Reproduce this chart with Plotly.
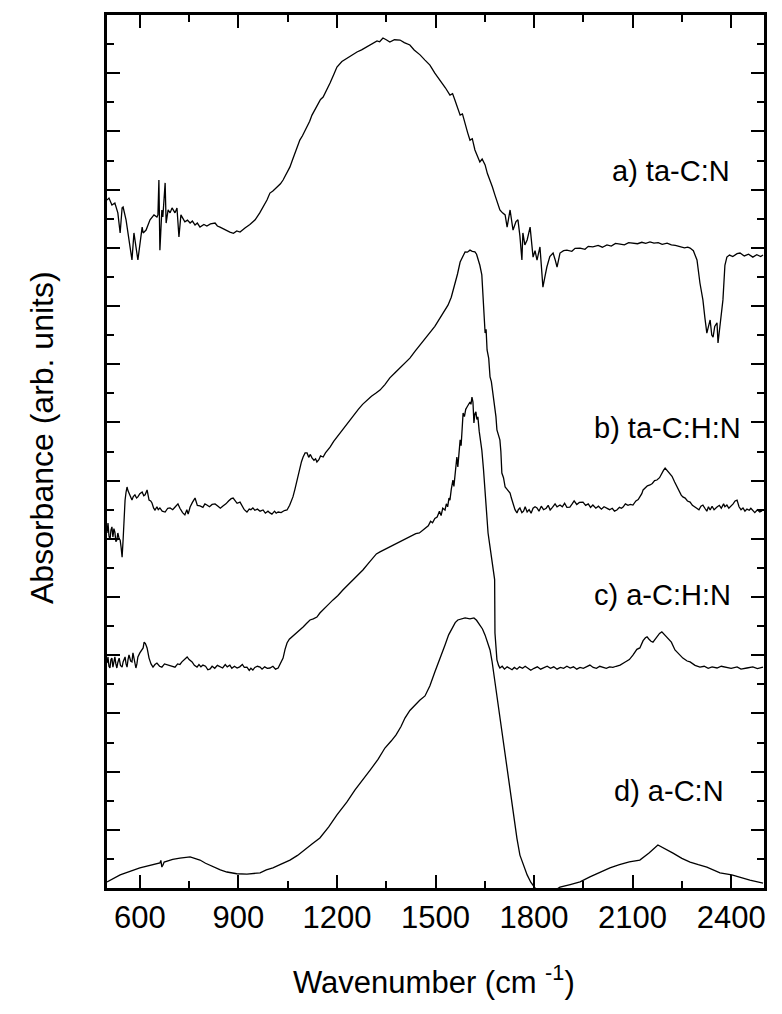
import plotly.graph_objects as go

# ---------------- data (wavenumber cm-1, absorbance arb. units offset) ----------------
a_x = [500, 506, 515, 524, 533, 540, 546, 549, 558, 564, 576, 582, 591, 594, 607, 610, 619, 631, 643, 652,
       655, 658, 661, 667, 670, 677, 680, 686, 692, 698, 707, 713, 719, 725, 737, 745, 753, 760, 768, 775,
       783, 795, 804, 815, 829, 836, 844, 855, 865, 874, 885, 895, 905, 912, 920, 935, 951, 965, 975, 987,
       996, 1005, 1017, 1028, 1036, 1046, 1057, 1064, 1072, 1080, 1087, 1095, 1109, 1117, 1124, 1133, 1142,
       1150, 1158, 1168, 1179, 1190, 1200, 1215, 1231, 1245, 1261, 1275, 1291, 1305, 1322, 1330, 1340, 1350,
       1361, 1375, 1392, 1405, 1422, 1435, 1453, 1468, 1483, 1498, 1514, 1530, 1544, 1552, 1559, 1567, 1575,
       1582, 1590, 1598, 1605, 1612, 1620, 1628, 1635, 1642, 1651, 1658, 1666, 1673, 1681, 1688, 1696, 1704,
       1712, 1718, 1727, 1736, 1745, 1751, 1757, 1763, 1766, 1772, 1779, 1788, 1797, 1803, 1809, 1818, 1827,
       1833, 1839, 1848, 1858, 1864, 1870, 1879, 1890, 1900, 1915, 1925, 1940, 1955, 1965, 1979, 1995, 2008,
       2022, 2035, 2048, 2062, 2075, 2088, 2101, 2115, 2128, 2140, 2153, 2165, 2178, 2190, 2205, 2218, 2230,
       2244, 2258, 2268, 2275, 2285, 2296, 2305, 2314, 2320, 2326, 2331, 2336, 2341, 2345, 2350, 2357, 2360,
       2366, 2372, 2375, 2381, 2387, 2395, 2405, 2418, 2427, 2440, 2453, 2466, 2478, 2490, 2497]
a_y = [23.64, 23.71, 23.47, 23.54, 23.20, 22.51, 23.37, 23.40, 22.96, 22.51, 21.58, 22.51, 21.68, 21.58, 22.71,
       22.51, 22.61, 22.96, 23.13, 23.06, 23.13, 24.33, 21.92, 23.30, 23.06, 24.23, 22.85, 23.30, 23.20, 23.37,
       23.20, 23.37, 22.37, 23.13, 22.89, 22.95, 22.85, 22.92, 22.78, 22.85, 22.71, 22.80, 22.75, 22.82, 22.85,
       22.75, 22.71, 22.65, 22.58, 22.54, 22.50, 22.58, 22.54, 22.62, 22.68, 22.80, 22.96, 23.20, 23.40, 23.64,
       23.88, 23.95, 24.08, 24.20, 24.33, 24.55, 24.78, 25.00, 25.26, 25.50, 25.70, 25.85, 26.15, 26.35, 26.56,
       26.75, 26.98, 27.10, 27.18, 27.40, 27.66, 27.95, 28.21, 28.40, 28.52, 28.62, 28.73, 28.80, 28.90, 29.00,
       29.11, 29.08, 29.21, 29.15, 29.07, 29.15, 29.14, 29.05, 28.97, 28.80, 28.63, 28.45, 28.28, 28.00, 27.77,
       27.50, 27.25, 27.30, 27.08, 26.80, 26.56, 26.60, 26.22, 25.95, 25.70, 25.75, 25.36, 25.10, 24.95, 25.05,
       24.85, 24.55, 24.33, 24.10, 23.81, 23.55, 23.30, 23.20, 23.13, 22.71, 23.30, 22.61, 22.90, 22.96, 22.40,
       21.58, 22.51, 22.10, 22.27, 22.71, 21.68, 21.90, 21.58, 22.03, 20.65, 21.00, 21.34, 21.70, 21.82, 21.60,
       21.34, 21.82, 21.90, 21.92, 21.88, 21.98, 21.99, 21.95, 22.05, 22.03, 22.08, 22.02, 22.10, 22.06, 22.15,
       22.13, 22.10, 22.18, 22.16, 22.14, 22.19, 22.15, 22.20, 22.16, 22.18, 22.12, 22.16, 22.10, 22.08, 22.03,
       22.00, 22.02, 21.99, 21.90, 21.58, 20.79, 20.21, 19.60, 19.07, 19.30, 19.52, 19.00, 18.93, 19.30, 19.42,
       18.73, 19.40, 19.86, 20.21, 21.40, 21.68, 21.75, 21.70, 21.80, 21.82, 21.72, 21.78, 21.68, 21.76, 21.70,
       21.75]

b_x = [500, 503, 506, 509, 512, 515, 518, 521, 524, 527, 530, 533, 537, 540, 543, 546, 549, 552, 555, 558,
       561, 564, 567, 571, 576, 580, 585, 590, 594, 600, 607, 612, 616, 622, 628, 633, 637, 642, 646, 652,
       656, 661, 668, 677, 685, 692, 700, 708, 716, 722, 730, 737, 743, 747, 753, 760, 768, 775, 783, 792,
       798, 804, 812, 820, 829, 838, 845, 853, 862, 870, 878, 884, 890, 896, 905, 912, 918, 926, 933, 938,
       944, 950, 958, 966, 975, 982, 990, 996, 1002, 1010, 1015, 1021, 1030, 1040, 1048, 1056, 1061, 1066,
       1072, 1078, 1083, 1087, 1092, 1097, 1103, 1109, 1114, 1119, 1124, 1130, 1135, 1139, 1145, 1150, 1158,
       1165, 1172, 1179, 1190, 1200, 1209, 1220, 1230, 1240, 1252, 1265, 1278, 1291, 1305, 1318, 1331, 1346,
       1361, 1376, 1392, 1408, 1422, 1438, 1453, 1468, 1483, 1498, 1514, 1526, 1538, 1548, 1559, 1567, 1575,
       1582, 1590, 1597, 1605, 1612, 1620, 1625, 1629, 1635, 1641, 1645, 1648, 1651, 1654, 1657, 1662, 1666,
       1670, 1675, 1680, 1684, 1687, 1691, 1696, 1699, 1702, 1707, 1712, 1718, 1723, 1727, 1731, 1736, 1742,
       1748, 1752, 1757, 1763, 1768, 1773, 1779, 1785, 1791, 1797, 1803, 1809, 1815, 1822, 1829, 1837, 1843,
       1849, 1856, 1864, 1870, 1879, 1886, 1893, 1900, 1909, 1916, 1922, 1930, 1938, 1949, 1957, 1965, 1972,
       1979, 1988, 1996, 2005, 2013, 2022, 2030, 2038, 2045, 2052, 2060, 2066, 2071, 2078, 2086, 2093, 2101,
       2110, 2117, 2122, 2128, 2132, 2138, 2145, 2153, 2160, 2167, 2174, 2182, 2188, 2194, 2199, 2205, 2210,
       2214, 2220, 2228, 2235, 2242, 2248, 2253, 2260, 2267, 2275, 2282, 2290, 2296, 2302, 2308, 2314, 2320,
       2326, 2331, 2336, 2342, 2348, 2357, 2364, 2370, 2377, 2381, 2387, 2393, 2400, 2406, 2412, 2418, 2424,
       2430, 2436, 2442, 2448, 2455, 2460, 2466, 2472, 2480, 2487, 2494]
b_y = [12.20, 12.54, 12.10, 11.96, 12.30, 12.41, 12.06, 12.35, 12.23, 11.90, 11.96, 12.20, 12.00, 11.96, 11.70,
       11.37, 11.96, 12.80, 13.33, 13.60, 13.78, 13.65, 13.57, 13.45, 13.33, 13.45, 13.51, 13.40, 13.44, 13.55,
       13.61, 13.48, 13.51, 13.68, 13.33, 13.30, 13.23, 13.05, 12.99, 13.10, 13.00, 13.06, 12.95, 12.92, 13.05,
       13.06, 13.00, 13.10, 13.20, 13.05, 12.90, 12.82, 13.00, 12.85, 13.09, 13.25, 13.40, 13.15, 13.13, 13.08,
       13.20, 13.16, 13.10, 13.18, 13.20, 13.12, 13.05, 13.13, 13.20, 13.30, 13.38, 13.40, 13.30, 13.22, 13.26,
       13.10, 13.00, 12.92, 13.02, 13.00, 13.06, 12.98, 13.02, 12.95, 12.99, 12.88, 12.95, 12.89, 12.85, 12.95,
       12.88, 12.92, 12.90, 12.97, 12.99, 13.15, 13.30, 13.44, 13.70, 14.00, 14.25, 14.47, 14.65, 14.81, 14.95,
       14.95, 14.80, 14.90, 14.78, 14.70, 14.75, 14.64, 14.72, 14.85, 14.81, 14.95, 15.05, 15.15, 15.35, 15.50,
       15.64, 15.80, 15.95, 16.08, 16.25, 16.45, 16.62, 16.77, 16.90, 17.00, 17.11, 17.30, 17.53, 17.70, 17.87,
       18.05, 18.21, 18.45, 18.66, 18.85, 19.07, 19.30, 19.59, 19.80, 20.03, 20.30, 20.72, 21.10, 21.51, 21.70,
       21.86, 21.85, 21.92, 21.88, 21.86, 21.78, 21.65, 21.40, 21.07, 20.21, 20.00, 19.07, 19.20, 18.49, 18.20,
       17.56, 17.40, 17.01, 16.50, 16.20, 15.74, 15.60, 15.40, 15.00, 14.26, 14.10, 13.78, 13.70, 13.60, 13.57,
       13.40, 13.23, 13.00, 12.89, 13.00, 13.06, 12.90, 12.95, 13.10, 12.92, 13.00, 12.88, 13.05, 13.10, 13.06,
       12.95, 13.12, 13.00, 13.05, 13.15, 12.99, 13.08, 13.20, 13.10, 13.16, 13.10, 13.22, 13.08, 13.09, 13.20,
       13.30, 13.18, 13.25, 13.26, 13.15, 13.20, 13.08, 13.16, 13.05, 13.12, 13.02, 13.10, 13.06, 13.00, 13.05,
       12.95, 12.99, 13.08, 13.05, 13.09, 13.20, 13.15, 13.18, 13.16, 13.30, 13.35, 13.44, 13.55, 13.68, 13.75,
       13.82, 13.85, 13.90, 14.00, 14.02, 14.10, 14.25, 14.35, 14.43, 14.35, 14.30, 14.26, 14.15, 13.95, 13.78,
       13.60, 13.50, 13.44, 13.40, 13.30, 13.26, 13.15, 13.10, 13.06, 13.00, 13.12, 13.16, 13.05, 12.95, 13.10,
       12.99, 13.12, 13.00, 13.09, 13.15, 13.05, 13.20, 13.10, 13.16, 13.05, 13.12, 13.20, 13.30, 13.33, 13.10,
       13.00, 13.06, 12.95, 13.02, 12.98, 13.05, 12.99, 12.90, 13.00, 12.92, 12.96]

c_x = [500, 503, 506, 509, 512, 515, 518, 521, 524, 527, 530, 533, 537, 541, 546, 549, 555, 558, 561, 564,
       567, 572, 576, 579, 584, 588, 591, 594, 600, 605, 610, 613, 617, 622, 628, 634, 640, 646, 652, 660,
       667, 675, 686, 695, 700, 707, 715, 722, 728, 736, 744, 750, 759, 766, 774, 780, 786, 792, 800, 807,
       814, 820, 828, 836, 844, 852, 860, 866, 874, 880, 888, 896, 904, 912, 918, 926, 933, 938, 944, 950,
       958, 966, 972, 980, 988, 996, 1005, 1013, 1021, 1028, 1036, 1042, 1048, 1055, 1063, 1070, 1078, 1088,
       1097, 1108, 1118, 1128, 1139, 1148, 1158, 1172, 1188, 1203, 1218, 1232, 1249, 1262, 1279, 1295, 1310,
       1320, 1331, 1345, 1361, 1376, 1392, 1407, 1422, 1440, 1451, 1462, 1470, 1478, 1485, 1491, 1498, 1505,
       1512, 1517, 1522, 1529, 1533, 1537, 1541, 1544, 1548, 1553, 1556, 1560, 1565, 1568, 1571, 1575, 1578,
       1581, 1584, 1588, 1592, 1596, 1600, 1605, 1608, 1611, 1614, 1617, 1620, 1623, 1626, 1629, 1633, 1637,
       1641, 1646, 1651, 1655, 1660, 1665, 1669, 1672, 1675, 1678, 1680, 1681, 1684, 1687, 1692, 1696, 1703,
       1710, 1718, 1725, 1733, 1740, 1748, 1756, 1765, 1773, 1782, 1790, 1800, 1810, 1820, 1830, 1840, 1850,
       1860, 1870, 1880, 1890, 1900, 1910, 1920, 1930, 1940, 1950, 1960, 1970, 1980, 1990, 2000, 2010, 2020,
       2030, 2040, 2050, 2062, 2075, 2090, 2101, 2113, 2122, 2132, 2139, 2144, 2150, 2156, 2162, 2168, 2175,
       2182, 2189, 2195, 2203, 2210, 2218, 2229, 2240, 2253, 2266, 2275, 2290, 2305, 2318, 2330, 2342, 2357,
       2370, 2387, 2400, 2418, 2430, 2448, 2466, 2480, 2497]
c_y = [7.73, 7.94, 7.62, 7.56, 7.85, 7.90, 7.59, 7.80, 7.94, 7.70, 7.56, 7.75, 7.90, 7.65, 7.59, 7.77, 7.94,
       7.70, 7.59, 7.85, 8.01, 7.80, 7.77, 8.08, 7.75, 7.56, 7.70, 7.94, 8.08, 8.15, 8.25, 8.45, 8.40, 8.25,
       7.90, 7.70, 7.59, 7.68, 7.73, 7.62, 7.59, 7.70, 7.66, 7.62, 7.59, 7.59, 7.70, 7.68, 7.77, 7.85, 7.94,
       7.85, 7.77, 7.65, 7.59, 7.68, 7.60, 7.66, 7.62, 7.50, 7.53, 7.62, 7.55, 7.65, 7.59, 7.56, 7.68, 7.60,
       7.66, 7.55, 7.62, 7.56, 7.60, 7.68, 7.58, 7.59, 7.48, 7.55, 7.49, 7.58, 7.62, 7.59, 7.52, 7.60, 7.55,
       7.56, 7.62, 7.52, 7.56, 7.70, 7.90, 8.20, 8.42, 8.55, 8.63, 8.70, 8.76, 8.85, 8.97, 9.10, 9.21, 9.25,
       9.31, 9.45, 9.55, 9.72, 9.90, 10.05, 10.24, 10.40, 10.58, 10.75, 10.93, 11.15, 11.37, 11.48, 11.55,
       11.63, 11.72, 11.80, 11.89, 11.98, 12.06, 12.18, 12.20, 12.30, 12.40, 12.45, 12.60, 12.55, 12.70,
       12.75, 12.95, 12.80, 13.05, 12.99, 13.20, 13.10, 13.40, 13.33, 13.70, 14.02, 13.80, 14.40, 14.81,
       14.47, 15.00, 15.40, 15.20, 15.90, 16.32, 16.20, 16.45, 16.53, 16.60, 16.70, 16.62, 16.87, 16.70,
       15.98, 16.30, 16.36, 16.10, 16.19, 15.70, 15.40, 15.05, 14.40, 13.57, 12.90, 12.20, 11.80, 11.50,
       11.27, 11.00, 10.69, 10.60, 8.76, 8.20, 7.84, 7.65, 7.56, 7.62, 7.52, 7.60, 7.55, 7.50, 7.58, 7.52,
       7.60, 7.55, 7.62, 7.56, 7.48, 7.55, 7.60, 7.52, 7.58, 7.62, 7.55, 7.60, 7.52, 7.58, 7.55, 7.62, 7.56,
       7.60, 7.52, 7.58, 7.55, 7.60, 7.66, 7.58, 7.55, 7.62, 7.58, 7.55, 7.60, 7.58, 7.62, 7.66, 7.75, 7.85,
       8.00, 8.20, 8.25, 8.50, 8.60, 8.63, 8.55, 8.48, 8.45, 8.55, 8.65, 8.75, 8.80, 8.72, 8.65, 8.55, 8.45,
       8.18, 8.05, 7.90, 7.80, 7.77, 7.65, 7.59, 7.62, 7.55, 7.60, 7.56, 7.62, 7.59, 7.55, 7.60, 7.52, 7.56,
       7.60, 7.54, 7.59]

d_x = [500, 540, 600, 640, 661, 664, 667, 670, 674, 700, 722, 753, 783, 800, 823, 845, 865, 895, 926, 950,
       966, 985, 1005, 1030, 1057, 1080, 1100, 1125, 1148, 1175, 1200, 1230, 1255, 1280, 1301, 1325, 1346,
       1365, 1380, 1395, 1407, 1422, 1438, 1452, 1468, 1483, 1498, 1515, 1529, 1540, 1550, 1560, 1568, 1580,
       1590, 1605, 1617, 1625, 1635, 1643, 1651, 1660, 1666, 1672, 1678, 1687, 1696, 1707, 1718, 1728, 1739,
       1748, 1757, 1768, 1779, 1790, 1803, 1818, 1837, 1855, 1867, 1879, 1910, 1940, 1970, 2000, 2031, 2060,
       2090, 2122, 2150, 2177, 2200, 2223, 2250, 2275, 2300, 2326, 2366, 2402, 2457, 2497]
d_y = [0.21, 0.45, 0.69, 0.80, 0.86, 0.95, 0.72, 0.78, 0.89, 0.98, 1.03, 1.07, 0.96, 0.85, 0.72, 0.62, 0.55,
       0.49, 0.48, 0.49, 0.52, 0.62, 0.69, 0.82, 0.96, 1.12, 1.31, 1.52, 1.72, 2.10, 2.51, 2.95, 3.37, 3.72,
       4.05, 4.42, 4.81, 5.05, 5.26, 5.55, 5.84, 6.10, 6.29, 6.45, 6.60, 6.95, 7.42, 7.90, 8.35, 8.70, 8.93,
       9.12, 9.21, 9.26, 9.28, 9.25, 9.28, 9.20, 9.04, 8.90, 8.69, 8.40, 8.18, 7.80, 7.32, 6.60, 5.77, 4.90,
       4.05, 3.20, 2.34, 1.70, 1.13, 0.75, 0.45, 0.20, 0.0, -0.17, -0.20, -0.14, -0.05, 0.03, 0.12, 0.21,
       0.38, 0.53, 0.69, 0.80, 0.90, 0.96, 1.20, 1.48, 1.35, 1.20, 1.02, 0.89, 0.80, 0.72, 0.52, 0.45, 0.27,
       0.17]

labels = ["a) ta-C:N", "b) ta-C:H:N", "c) a-C:H:N", "d) a-C:N"]
label_x = [2031, 1976, 1976, 2037]
label_y = [24.64, 15.81, 10.07, 3.33]

x_tickvals = [600, 900, 1200, 1500, 1800, 2100, 2400]
x_title = "Wavenumber (cm <sup>-1</sup>)"
y_title = "Absorbance (arb. units)"

# ---------------- figure ----------------
FONT = "Arial, Liberation Sans, sans-serif"
fig = go.Figure()
for xs, ys in [(a_x, a_y), (b_x, b_y), (c_x, c_y), (d_x, d_y)]:
    fig.add_trace(go.Scatter(x=xs, y=ys, mode="lines",
                             line=dict(color="black", width=1.3), showlegend=False))

for t, lx, ly in zip(labels, label_x, label_y):
    fig.add_annotation(x=lx, y=ly, xref="x", yref="y", text=t, showarrow=False,
                       xanchor="left", yanchor="middle",
                       font=dict(family=FONT, size=29, color="black"))

fig.add_annotation(x=0.498, y=-0.1054, xref="paper", yref="paper", text=x_title,
                   showarrow=False, xanchor="center", yanchor="middle",
                   font=dict(family=FONT, size=31, color="black"))
fig.add_annotation(x=-0.0989, y=0.5155, xref="paper", yref="paper", text=y_title,
                   showarrow=False, xanchor="center", yanchor="middle", textangle=-90,
                   font=dict(family=FONT, size=32, color="black"))

fig.update_xaxes(range=[500, 2500], tickvals=x_tickvals, ticks="inside", ticklen=13, tickwidth=2,
                 tickcolor="black", showline=True, linewidth=2.5, linecolor="black", mirror="ticks",
                 showgrid=False, zeroline=False,
                 tickfont=dict(family=FONT, size=31, color="black"),
                 minor=dict(ticks="inside", ticklen=7, tickwidth=2, tickcolor="black",
                            tick0=450, dtick=300, showgrid=False))
fig.update_yaxes(range=[0, 30], tick0=0, dtick=2, ticks="inside", ticklen=13, tickwidth=2,
                 tickcolor="black", showline=True, linewidth=2.5, linecolor="black", mirror="ticks",
                 showgrid=False, zeroline=False, showticklabels=False,
                 minor=dict(ticks="inside", ticklen=7, tickwidth=2, tickcolor="black",
                            tick0=0, dtick=1, showgrid=False))

fig.update_layout(width=782, height=1014, margin=dict(l=107, r=18, t=15, b=126),
                  paper_bgcolor="white", plot_bgcolor="white",
                  font=dict(family=FONT, color="black"))

fig.write_html("out.html")
